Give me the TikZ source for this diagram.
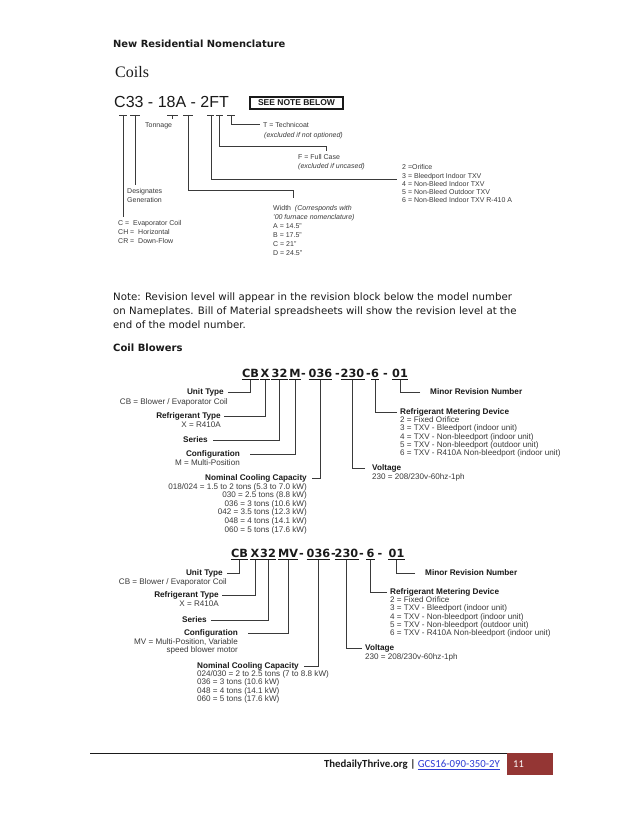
\documentclass[tikz,border=0pt]{standalone}
\usepackage{fontspec}
\setmainfont{Liberation Sans}
\newfontfamily\dvs{DejaVu Sans}
\newfontfamily\lserif{Liberation Serif}
\newfontfamily\calib{Carlito}
\usetikzlibrary{calc}
\definecolor{ink}{HTML}{1A1A1A}
\definecolor{gr}{HTML}{3A3A3A}
\definecolor{lnk}{HTML}{2E3CD6}
\definecolor{pgred}{HTML}{943634}
\begin{document}
\begin{tikzpicture}[x=1pt,y=-1pt,
  every node/.style={inner sep=0pt},
  cl/.style={font=\fontsize{7}{8}\selectfont, text=gr, text height=5pt, text depth=1.5pt, anchor=west},
  cli/.style={cl, font=\fontsize{7}{8}\selectfont\itshape},
  bl/.style={font=\fontsize{8.1}{9}\selectfont, text=gr, text height=6pt, text depth=2pt},
  bb/.style={font=\bfseries\fontsize{8.2}{9}\selectfont, text=ink, text height=6pt, text depth=2pt},
  code/.style={font=\dvs\bfseries\fontsize{11.3}{12}\selectfont, text=ink, anchor=base},
  cw/.style={draw=gr, line width=0.8pt},
  bw/.style={draw=gr, line width=0.9pt},
  ul/.style={draw=ink, line width=0.9pt},
  note/.style={font=\dvs\fontsize{10.2}{11}\selectfont, text=ink, anchor=base west},
]
\useasboundingbox[fill=white] (0,0) rectangle (638,826);

% ---------------- header ----------------
\node[anchor=base west, font=\dvs\bfseries\fontsize{9.9}{11}\selectfont, text=ink] (hdr) at (113,47.5) {New Residential Nomenclature};
\node[anchor=base west, font=\lserif\fontsize{16}{18}\selectfont, text=ink] (coils) at (115,78) {Coils};

% ---------------- coils code ----------------
\node[anchor=base west, font=\fontsize{16}{18}\selectfont, text=ink] (ccode) at (114,108) {C33 - 18A - 2FT};
\node[draw=ink, line width=1.1pt, minimum width=93pt, minimum height=12pt, font=\bfseries\fontsize{8.5}{9}\selectfont, text=ink] (see) at (296.5,103) {SEE NOTE BELOW};

% labels
\node[cl] (ton) at (145,126) {Tonnage};
\node[cl] (tt) at (263,126) {T = Technicoat};
\node[cli] (tt2) at (264,136) {(excluded if not optioned)};
\node[cl] (ff) at (298,158) {F = Full Case};
\node[cli] (ff2) at (298,167) {(excluded if uncased)};
\foreach \t [count=\i from 0] in {2 =Orifice, 3 = Bleedport Indoor TXV, 4 = Non-Bleed Indoor TXV, 5 = Non-Bleed Outdoor TXV, 6 = Non-Bleed Indoor TXV R-410 A}
  \node[cl] (orf\i) at (402,{168+8.3*\i}) {\t};
\node[cl] (wd0) at (273,209) {Width\ \ \textit{(Corresponds with}};
\node[cli] (wd1) at (273,218) {'00 furnace nomenclature)};
\foreach \t [count=\i from 2] in {A = 14.5", B = 17.5", C = 21", D = 24.5"}
  \node[cl] (wd\i) at (273,{227+9*(\i-2)}) {\t};
\node[cl] (dg1) at (127,192) {Designates};
\node[cl] (dg2) at (127,201) {Generation};
\node[cl] (ev1) at (118,224) {C = \ Evaporator Coil};
\node[cl] (ev2) at (118,233) {CH = \ Horizontal};
\node[cl] (ev3) at (118,242) {CR = \ Down-Flow};

% tick lines
\draw[cw] (119,115) -- (127,115) (123,115) -- (123,217);
\draw[cw] (130,115) -- (140,115) (135,115) -- (135,185);
\draw[cw] (167,115) -- (178,115) (172,115) -- (172,119);
\draw[cw] (183,115) -- (193,115) (188,115) |- (293,190) -- (293,198);
\draw[cw] (207,115) -- (214,115) (211,115) |- (397,179);
\draw[cw] (215.5,115) -- (223,115) (219,115) |- (326,146) -- (326,151);
\draw[cw] (227,115) -- (235,115) (231,115) |- (260,124);

% ---------------- note ----------------
\node[note] (n1) at (113,300) {Note: Revision level will appear in the revision block below the model number};
\node[note] (n2) at (113,314) {on Nameplates. Bill of Material spreadsheets will show the revision level at the};
\node[note] (n3) at (113,328) {end of the model number.};
\node[note, font=\dvs\bfseries\fontsize{10}{11}\selectfont] (cbh) at (113,351.5) {Coil Blowers};

% ---------------- blowers 1 ----------------
\node[code] (a1) at (250.5,377) {CB};
\node[code] (a2) at (265,377) {X};
\node[code] (a3) at (279.5,377) {32};
\node[code] (a4) at (295,377) {M};
\node[code] (d1) at (303.5,377) {-};
\node[code] (a5) at (320.5,377) {036};
\node[code] (d2) at (337.5,377) {-};
\node[code] (a6) at (352.5,377) {230};
\node[code] (d3) at (368.5,377) {-};
\node[code] (a7) at (375,377) {6};
\node[code] (d4) at (385.5,377) {-};
\node[code] (a8) at (400,377) {01};
\foreach \n in {a1,a2,a3,a4,a5,a6,a7,a8}
  \draw[ul] ($(\n.base west)+(0,2)$) -- ($(\n.base east)+(0,2)$);

\node[bb, anchor=east] (ut) at (224,392) {Unit Type};
\node[bl, anchor=east] (ut2) at (228,402) {CB = Blower / Evaporator Coil};
\node[bb, anchor=east] (rt) at (221,416) {Refrigerant Type};
\node[bl, anchor=east] (rt2) at (221,425) {X = R410A};
\node[bb, anchor=east] (se) at (208,440) {Series};
\node[bb, anchor=east] (cf) at (240,454) {Configuration};
\node[bl, anchor=east] (cf2) at (240,463) {M = Multi-Position};
\node[bb, anchor=east] (nc) at (307,478) {Nominal Cooling Capacity};
\foreach \t [count=\i from 0] in {018/024 = 1.5 to 2 tons (5.3 to 7.0 kW), 030 = 2.5 tons (8.8 kW), 036 = 3 tons (10.6 kW), 042 = 3.5 tons (12.3 kW), 048 = 4 tons (14.1 kW), 060 = 5 tons (17.6 kW)}
  \node[bl, anchor=east] (ncA\i) at (307,{487+8.6*\i}) {\t};
\node[bb, anchor=west] (mr) at (430,392) {Minor Revision Number};
\node[bb, anchor=west] (rm) at (400,412) {Refrigerant Metering Device};
\foreach \t [count=\i from 0] in {2 = Fixed Orifice, 3 = TXV - Bleedport (indoor unit), 4 = TXV - Non-bleedport (indoor unit), 5 = TXV - Non-bleedport (outdoor unit), 6 = TXV - R410A Non-bleedport (indoor unit)}
  \node[bl, anchor=west] (rmA\i) at (400,{420.5+8.3*\i}) {\t};
\node[bb, anchor=west] (vo) at (372,468) {Voltage};
\node[bl, anchor=west] (vo2) at (372,477) {230 = 208/230v-60hz-1ph};

\draw[bw] (ut.east) ++(4,0) -| ($(a1.base)+(0,3)$);
\draw[bw] (rt.east) ++(3,0) -| ($(a2.base)+(0,3)$);
\draw[bw] (se.east) ++(5,0) -| ($(a3.base)+(0,3)$);
\draw[bw] (cf.east) ++(10,0) -| ($(a4.base)+(0,3)$);
\draw[bw] (nc.east) ++(5,0) -| ($(a5.base)+(0,3)$);
\draw[bw] (vo.west) ++(-7,0) -| ($(a6.base)+(0,3)$);
\draw[bw] (rm.west) ++(-3,0) -| ($(a7.base)+(0,3)$);
\draw[bw] (mr.west) ++(-10,0) -| ($(a8.base)+(0,3)$);

% ---------------- blowers 2 ----------------
\node[code] (b1) at (239.5,557) {CB};
\node[code] (b2) at (255,557) {X};
\node[code] (b3) at (268,557) {32};
\node[code] (b4) at (288,557) {MV};
\node[code] (e1) at (301.5,557) {-};
\node[code] (b5) at (318.5,557) {036};
\node[code] (e2) at (333.5,557) {-};
\node[code] (b6) at (346.5,557) {230};
\node[code] (e3) at (361.5,557) {-};
\node[code] (b7) at (370.5,557) {6};
\node[code] (e4) at (380,557) {-};
\node[code] (b8) at (396.5,557) {01};
\foreach \n in {b1,b2,b3,b4,b5,b6,b7,b8}
  \draw[ul] ($(\n.base west)+(0,2)$) -- ($(\n.base east)+(0,2)$);

\node[bb, anchor=east] (vt) at (223,573) {Unit Type};
\node[bl, anchor=east] (vt2) at (227,582) {CB = Blower / Evaporator Coil};
\node[bb, anchor=east] (st) at (219,595) {Refrigerant Type};
\node[bl, anchor=east] (st2) at (219,604) {X = R410A};
\node[bb, anchor=east] (te) at (207,620) {Series};
\node[bb, anchor=east] (dg) at (238,633) {Configuration};
\node[bl, anchor=east] (dg2b) at (238,642) {MV = Multi-Position, Variable};
\node[bl, anchor=east] (dg3b) at (238,650.5) {speed blower motor};
\node[bb, anchor=west] (oc) at (197,666) {Nominal Cooling Capacity};
\foreach \t [count=\i from 0] in {024/030 = 2 to 2.5 tons (7 to 8.8 kW), 036 = 3 tons (10.6 kW), 048 = 4 tons (14.1 kW), 060 = 5 tons (17.6 kW)}
  \node[bl, anchor=west] (ocA\i) at (197,{674.5+8.3*\i}) {\t};
\node[bb, anchor=west] (ns) at (425,573) {Minor Revision Number};
\node[bb, anchor=west] (sm) at (390,592) {Refrigerant Metering Device};
\foreach \t [count=\i from 0] in {2 = Fixed Orifice, 3 = TXV - Bleedport (indoor unit), 4 = TXV - Non-bleedport (indoor unit), 5 = TXV - Non-bleedport (outdoor unit), 6 = TXV - R410A Non-bleedport (indoor unit)}
  \node[bl, anchor=west] (smA\i) at (390,{600.5+8.3*\i}) {\t};
\node[bb, anchor=west] (wo) at (365,648) {Voltage};
\node[bl, anchor=west] (wo2) at (365,657) {230 = 208/230v-60hz-1ph};

\draw[bw] (vt.east) ++(4,0) -| ($(b1.base)+(0,3)$);
\draw[bw] (st.east) ++(3,0) -| ($(b2.base)+(0,3)$);
\draw[bw] (te.east) ++(4,0) -| ($(b3.base)+(0,3)$);
\draw[bw] (dg.east) ++(10,0) -| ($(b4.base)+(0,3)$);
\draw[bw] (oc.east) ++(5,0) -| ($(b5.base)+(0,3)$);
\draw[bw] (wo.west) ++(-3,0) -| ($(b6.base)+(0,3)$);
\draw[bw] (sm.west) ++(-3,0) -| ($(b7.base)+(0,3)$);
\draw[bw] (ns.west) ++(-10,0) -| ($(b8.base)+(0,3)$);

% ---------------- footer ----------------
\draw[draw=ink, line width=0.8pt] (90,753) -- (507,753);
\node[fill=pgred, minimum width=46pt, minimum height=22pt, anchor=north west] (pg) at (507,753) {};
\node[anchor=west, text=white, font=\calib\fontsize{10.5}{12}\selectfont] (pgn) at (513,764) {11};
\node[anchor=base east, font=\calib\fontsize{10.8}{12}\selectfont, text=ink] (ft) at (500,767.5) {\textbf{ThedailyThrive.org |} \textcolor{lnk}{\underline{GCS16-090-350-2Y}}};
\end{tikzpicture}
\end{document}
